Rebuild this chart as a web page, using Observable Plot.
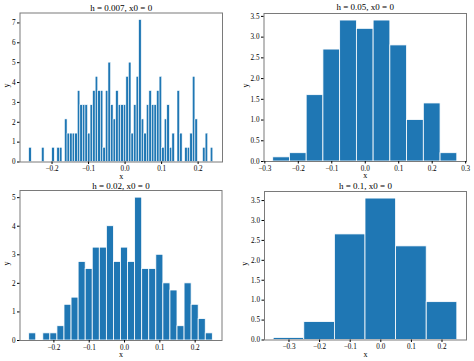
<!DOCTYPE html>
<html>
<head>
<meta charset="utf-8">
<script src="https://cdn.jsdelivr.net/npm/d3@7"></script>
<script src="https://cdn.jsdelivr.net/npm/@observablehq/plot@0.6"></script>
<style>
  body { margin: 0; background: #fff; }
  #fig { position: relative; width: 474px; height: 361px; background: #fff; overflow: hidden; }
  #fig > div { position: absolute; }
</style>
</head>
<body>
<div id="fig"></div>
<script>
// ---- data ----
const N = 200; // number of samples (density = count / (N*h))

// panel 1: h = 0.007, bins centred at k*h
const titleA = "h = 0.007, x0 = 0";
const hA = 0.007;
const kStartA = -37;
const countsA = [1,0,0,0,0,1,0,0,0,1, 0,1,1,0,3,2,2,2,2,5, 4,4,4,2,4,5,6,5,5,1,
                 5,7,4,3,5,4,4,4,6,7, 2,4,6,10,3,2,4,5,4,4, 5,6,1,3,4,1,2,0,5,2,
                 0,1,1,2,6,3,0,0,1,2, 0,1];
const xTicksA = [-0.2, -0.1, 0.0, 0.1, 0.2];
const yTicksA = [0, 1, 2, 3, 4, 5, 6, 7];

// panel 2: h = 0.05
const titleB = "h = 0.05, x0 = 0";
const hB = 0.05;
const kStartB = -5;
const countsB = [1, 2, 16, 27, 34, 32, 34, 28, 10, 14, 2];
const xTicksB = [-0.3, -0.2, -0.1, 0.0, 0.1, 0.2, 0.3];
const yTicksB = [0, 0.5, 1.0, 1.5, 2.0, 2.5, 3.0, 3.5];

// panel 3: h = 0.02
const titleC = "h = 0.02, x0 = 0";
const hC = 0.02;
const kStartC = -13;
const countsC = [1,0,1,1,2,5,6,11,10,13,13,16,11,13,11,20,10,10,12,8,7,2,8,5,3,1];
const xTicksC = [-0.2, -0.1, 0.0, 0.1, 0.2];
const yTicksC = [0, 1, 2, 3, 4, 5];

// panel 4: h = 0.1
const titleD = "h = 0.1, x0 = 0";
const hD = 0.1;
const kStartD = -3;
const countsD = [1, 9, 53, 71, 47, 19];
const xTicksD = [-0.3, -0.2, -0.1, 0.0, 0.1, 0.2];
const yTicksD = [0, 0.5, 1.0, 1.5, 2.0, 2.5, 3.0, 3.5];

// ---- drawing ----
const FONT = "'Liberation Serif', 'Times New Roman', serif";
const BLUE = "#1f77b4";

function panel(o) {
  const bins = o.counts.map((c, i) => {
    const center = (o.kStart + i) * o.h;
    return { x1: center - o.h / 2, x2: center + o.h / 2, y: c / (N * o.h), c };
  });
  const lo = (o.kStart - 0.5) * o.h;
  const hi = (o.kStart + o.counts.length - 0.5) * o.h;
  const pad = 0.05 * (hi - lo);
  const ymax = d3.max(bins, d => d.y) * 1.05;
  const chart = Plot.plot({
    width: o.w, height: o.ht,
    marginLeft: o.ml, marginRight: o.mr, marginTop: o.mt, marginBottom: o.mb,
    style: { fontFamily: FONT, color: "#000", background: "#fff", overflow: "visible" },
    x: { domain: [lo - pad, hi + pad], label: null },
    y: { domain: [0, ymax], label: null },
    marks: [
      Plot.rectY(bins.filter(d => d.c > 0), {
        x1: "x1", x2: "x2", y: "y", fill: BLUE, stroke: "#fff", strokeWidth: o.sw
      }),
      Plot.frame({ stroke: "#7a7a7a", strokeWidth: 1 }),
      Plot.axisX({ ticks: o.xTicks, tickFormat: d3.format(".1f"), tickSize: 2.5, tickPadding: 1.5, fontSize: 7.2, label: null }),
      Plot.axisY({ ticks: o.yTicks, tickFormat: o.yFmt, tickSize: 2.5, tickPadding: 2, fontSize: 7.2, label: null }),
      Plot.text([o.title], { frameAnchor: "top", dy: o.titleDy, lineAnchor: "middle", fontSize: 9, fill: "#000" }),
      Plot.text(["x"], { frameAnchor: "bottom", dy: 14, lineAnchor: "middle", fontSize: 8, fill: "#000" }),
      Plot.text(["y"], { frameAnchor: "left", dx: o.ylabDx, rotate: -90, lineAnchor: "middle", fontSize: 8, fill: "#000" })
    ]
  });
  const holder = document.createElement("div");
  holder.style.left = o.left + "px";
  holder.style.top = o.top + "px";
  holder.appendChild(chart);
  document.getElementById("fig").appendChild(holder);
}

const intFmt = d3.format("d");
const decFmt = d3.format(".1f");

panel({ title: titleA, h: hA, kStart: kStartA, counts: countsA, xTicks: xTicksA, yTicks: yTicksA, yFmt: intFmt, sw: 0.55,
        left: 0, top: 0, w: 237, ht: 180, ml: 19.5, mr: 15, mt: 12.5, mb: 18.5, titleDy: -5, ylabDx: -13.5 });
panel({ title: titleB, h: hB, kStart: kStartB, counts: countsB, xTicks: xTicksB, yTicks: yTicksB, yFmt: decFmt, sw: 0.8,
        left: 237, top: 0, w: 237, ht: 180, ml: 26.5, mr: 8, mt: 13, mb: 19, titleDy: -6, ylabDx: -18.5 });
panel({ title: titleC, h: hC, kStart: kStartC, counts: countsC, xTicks: xTicksC, yTicks: yTicksC, yFmt: intFmt, sw: 0.8,
        left: 0, top: 180, w: 237, ht: 181, ml: 19.5, mr: 15.5, mt: 10, mb: 21, titleDy: -4.7, ylabDx: -13.5 });
panel({ title: titleD, h: hD, kStart: kStartD, counts: countsD, xTicks: xTicksD, yTicks: yTicksD, yFmt: decFmt, sw: 0.8,
        left: 237, top: 180, w: 237, ht: 181, ml: 27, mr: 8, mt: 11, mb: 21.5, titleDy: -5, ylabDx: -20 });
</script>
</body>
</html>
